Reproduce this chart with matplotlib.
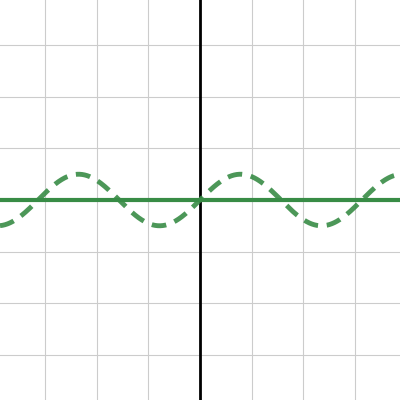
import numpy as np
import matplotlib
matplotlib.use("Agg")
import matplotlib.pyplot as plt

# curve definition: y = amplitude * sin(frequency * x)
amplitude = 0.5
frequency = 2.0
line_level = 0.0
x_range = [-3.88, 3.88]
y_range = [-3.88, 3.88]
grid_ticks = [-3, -2, -1, 0, 1, 2, 3]

fig = plt.figure(figsize=(4, 4), dpi=100)
ax = fig.add_axes([0, 0, 1, 1])
ax.set_xlim(x_range)
ax.set_ylim(y_range)
for t in grid_ticks:
    ax.axvline(t, color="#cccccc", lw=0.8, zorder=0)
    ax.axhline(t, color="#cccccc", lw=0.8, zorder=0)
ax.axvline(0, color="black", lw=2, zorder=1)
ax.axhline(0, color="black", lw=2, zorder=1)
x = np.linspace(x_range[0], x_range[1], 800)
ax.plot(x, amplitude * np.sin(frequency * x), color="#388c46", lw=3.5,
        dashes=(3, 1.8), alpha=0.9, zorder=2)
ax.axhline(line_level, color="#388c46", lw=3, zorder=3)
ax.set_xticks([]); ax.set_yticks([])
for s in ax.spines.values():
    s.set_visible(False)
fig.savefig("out.png")
